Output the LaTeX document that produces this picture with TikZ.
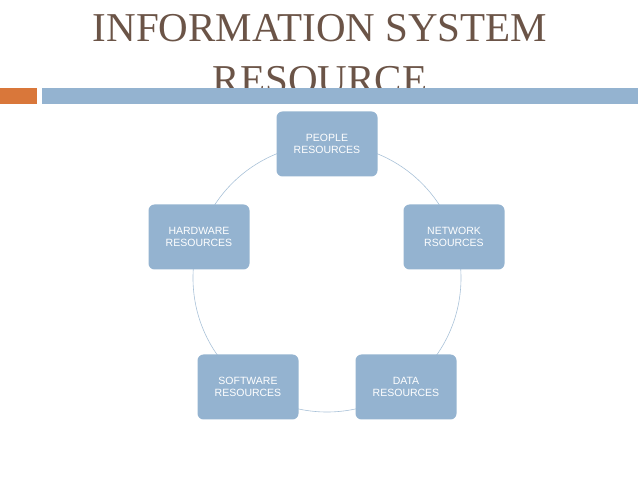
\documentclass[tikz,border=0pt]{standalone}
\usepackage{fontspec}
\setmainfont{Liberation Serif}
\newfontfamily\boxfont{Liberation Sans}
\definecolor{boxblue}{HTML}{94B3D0}
\definecolor{titlebrown}{HTML}{6B5447}
\definecolor{barorange}{HTML}{D9773A}
\definecolor{ringblue}{HTML}{A9C2D8}
\begin{document}
\begin{tikzpicture}[x=1pt,y=-1pt,
  res/.style={draw=none,fill=boxblue,rounded corners=6pt,minimum width=101pt,minimum height=65pt,align=center,text=white,font=\boxfont\fontsize{10.5}{12.5}\selectfont},
  ttl/.style={text=titlebrown,font=\fontsize{41}{41}\selectfont}]
\useasboundingbox (0,0) rectangle (638,478);
\node[ttl] (t1) at (320,28) {INFORMATION SYSTEM};
\node[ttl] (t2) at (320,80) {RESOURCE};
\fill[barorange] (0,88) rectangle (37,104);
\fill[boxblue] (42,88) rectangle (638,104);
\draw[ringblue,line width=0.6pt] (327,278) circle (134);
\node[res] (p) at (327,144) {PEOPLE\\RESOURCES};
\node[res] (n) at (454,237) {NETWORK\\RSOURCES};
\node[res] (d) at (406,387) {DATA\\RESOURCES};
\node[res] (s) at (248,387) {SOFTWARE\\RESOURCES};
\node[res] (h) at (199,237) {HARDWARE\\RESOURCES};
\end{tikzpicture}
\end{document}
